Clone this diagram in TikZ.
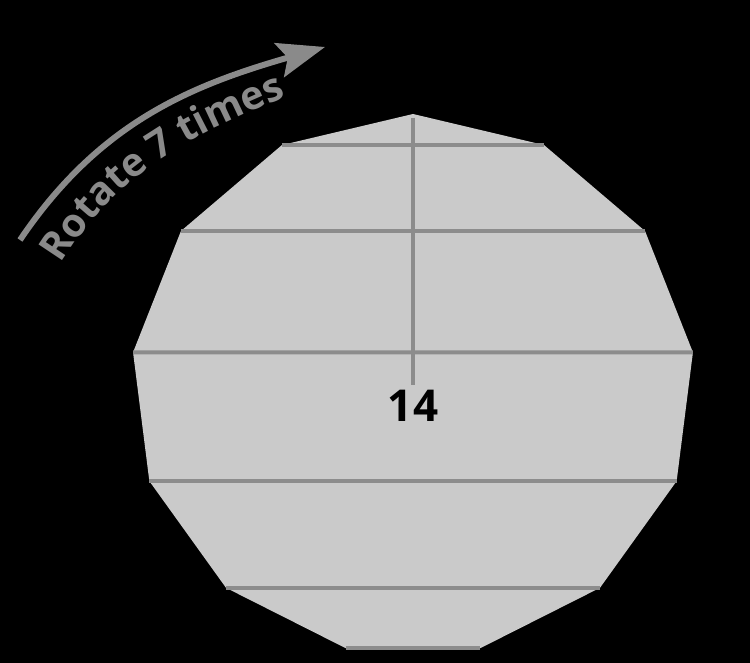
\documentclass[tikz,border=0pt]{standalone}
\usepackage{fontspec}
\setmainfont{Open Sans}
\usetikzlibrary{arrows.meta,decorations.text}

\definecolor{polyfill}{RGB}{202,202,202}
\definecolor{chordgray}{RGB}{140,140,140}
\definecolor{arrowgray}{RGB}{138,138,138}

\tikzset{
    chord/.style={draw=chordgray, line width=2.2pt},
    turnarrow/.style={draw=arrowgray, line width=3.4pt, -{Stealth[length=27pt, width=20pt, inset=5pt]}},
}

\begin{document}
\begin{tikzpicture}
    % Background and frame
    \fill[black] (-8.26,-5.56) rectangle (6.74,7.70);
    \useasboundingbox (-8.26,-5.56) rectangle (6.74,7.70);
    \coordinate (O) at (0,0);

    % Vertices of the 13-gon
    \foreach \k in {0,1,...,12} {
        \coordinate (P\k) at ({90+\k*360/13}:5.64 and 5.42);
    }
    \fill[polyfill] (P0) \foreach \k in {1,2,...,12} { -- (P\k) } -- cycle;

    % Horizontal chords between mirrored vertices
    \foreach \k in {1,2,...,6} {
        \pgfmathtruncatemacro{\j}{13-\k}
        \draw[chord] (P\k) -- (P\j);
    }
    \draw[chord] ([yshift=-2pt]P0) -- (O);

    % Count label
    \node[font=\fontsize{25}{30}\selectfont\bfseries] (count) at (0,-0.42) {14};

    % Rotation arrow with text along it
    \coordinate (A0) at (-7.86,2.90);
    \coordinate (A1) at (-1.76,6.76);
    \draw[turnarrow] (A0) to[out=56, in=196] (A1);
    \coordinate (T0) at (-7.04,2.42);
    \coordinate (T1) at (-2.56,5.76);
    \path[decorate, decoration={text along path, text align={fit to path},
        text={|\fontsize{22.5}{27}\selectfont\bfseries\color{arrowgray}|Rotate 7 times}}]
        (T0) to[out=58, in=203] (T1);
\end{tikzpicture}
\end{document}
